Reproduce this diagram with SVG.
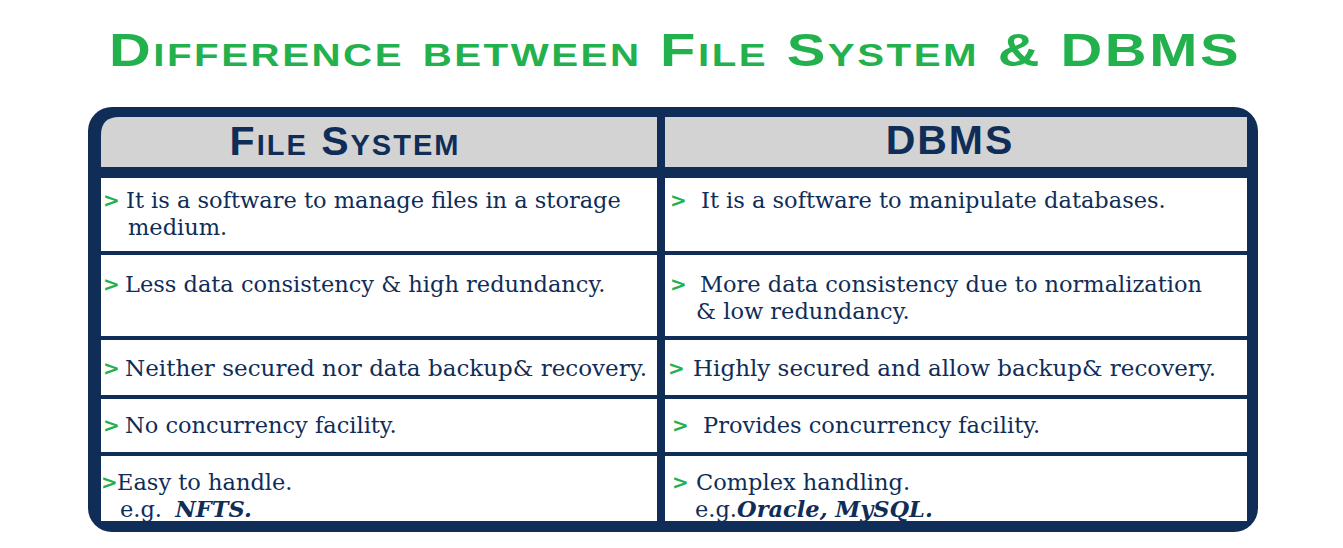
<svg xmlns="http://www.w3.org/2000/svg" width="1343" height="548" viewBox="0 0 1343 548">
<style>
.t{font-family:"DejaVu Serif",serif;font-size:22.5px;fill:#0f2d57}
.g{font-family:"DejaVu Sans",sans-serif;font-weight:bold;font-size:20px;fill:#22b14c}
.h{font-family:"Liberation Sans",sans-serif;font-weight:bold;font-size:41px;fill:#0f2d57;font-variant:small-caps;text-anchor:middle;letter-spacing:2px}
.b{font-weight:bold;font-style:italic}
</style>
<rect width="1343" height="548" fill="#fff"/>
<text x="675" y="66" text-anchor="middle" font-family="Liberation Sans,sans-serif" font-weight="bold" font-size="46" fill="#22b14c" style="font-variant:small-caps" letter-spacing="2" textLength="1132" lengthAdjust="spacingAndGlyphs">Difference between File System &amp; DBMS</text>
<rect x="88" y="107" width="1170" height="425" rx="24" fill="#0f2d57"/>
<path d="M101 135 Q101 117 119 117 H657 V167 H101 Z" fill="#d3d3d3"/>
<rect x="665" y="117" width="582" height="50" fill="#d3d3d3"/>
<g fill="#fff">
<rect x="101" y="178" width="556" height="73"/><rect x="665" y="178" width="582" height="73"/>
<rect x="101" y="255" width="556" height="81"/><rect x="665" y="255" width="582" height="81"/>
<rect x="101" y="340" width="556" height="55"/><rect x="665" y="340" width="582" height="55"/>
<rect x="101" y="399" width="556" height="53"/><rect x="665" y="399" width="582" height="53"/>
<rect x="101" y="456" width="556" height="65"/><rect x="665" y="456" width="582" height="65"/>
</g>
<text class="h" x="345" y="155">File System</text>
<text class="h" x="950" y="154">DBMS</text>
<g class="g">
<text x="103" y="207">&gt;</text><text x="670" y="207">&gt;</text>
<text x="103" y="291">&gt;</text><text x="670" y="291">&gt;</text>
<text x="103" y="375">&gt;</text><text x="668" y="375">&gt;</text>
<text x="103" y="432">&gt;</text><text x="672" y="432">&gt;</text>
<text x="101" y="489">&gt;</text><text x="672" y="489">&gt;</text>
</g>
<g class="t">
<text x="126" y="208">It is a software to manage files in a storage</text>
<text x="128" y="235">medium.</text>
<text x="701" y="208">It is a software to manipulate databases.</text>
<text x="125" y="292">Less data consistency &amp; high redundancy.</text>
<text x="700" y="292">More data consistency due to normalization</text>
<text x="696" y="319">&amp; low redundancy.</text>
<text x="125" y="376" textLength="522" lengthAdjust="spacingAndGlyphs">Neither secured nor data backup&amp; recovery.</text>
<text x="693" y="376" textLength="523" lengthAdjust="spacingAndGlyphs">Highly secured and allow backup&amp; recovery.</text>
<text x="125" y="433">No concurrency facility.</text>
<text x="703" y="433">Provides concurrency facility.</text>
<text x="117" y="490">Easy to handle.</text>
<text x="120" y="517">e.g. <tspan class="b" dx="6">NFTS.</tspan></text>
<text x="696" y="490">Complex handling.</text>
<text x="695" y="517">e.g.<tspan class="b">Oracle, MySQL.</tspan></text>
</g>
</svg>
